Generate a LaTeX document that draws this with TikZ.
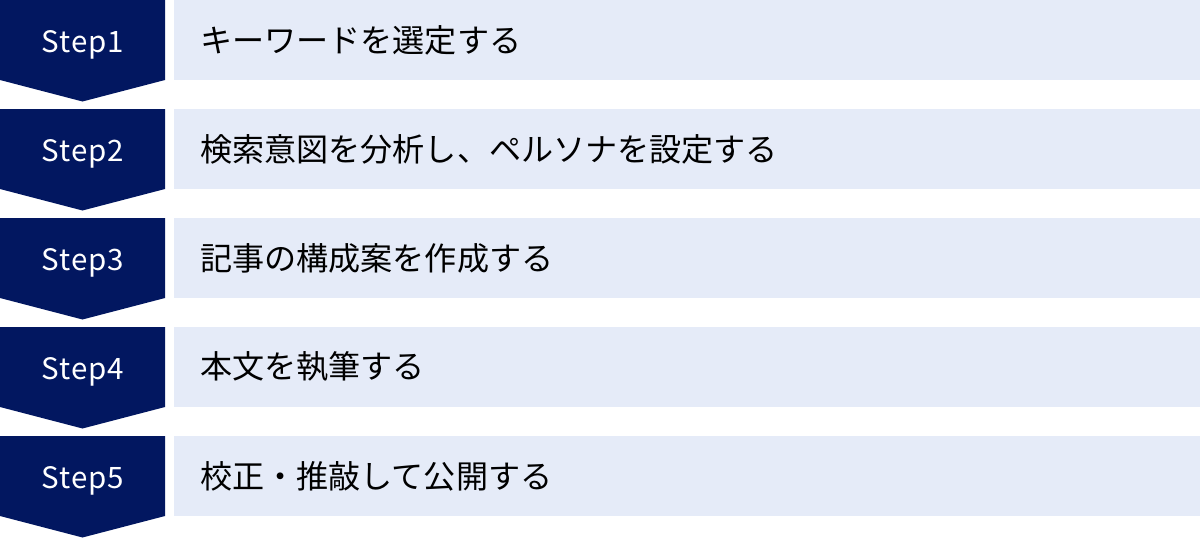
\documentclass[tikz,border=0pt]{standalone}
\usepackage{fontspec}
\setmainfont{Noto Sans CJK JP}
\newfontfamily\stepfont[LetterSpace=3]{Noto Sans CJK JP}
\definecolor{stepnavy}{RGB}{2,23,96}
\definecolor{barblue}{RGB}{229,235,248}
\tikzset{
  steplabel/.style={anchor=base,text=white,inner sep=0pt,font=\stepfont\fontsize{29.5}{34}\selectfont},
  tasklabel/.style={anchor=west,inner sep=0pt,text=black,font=\fontsize{32.1}{38}\selectfont}
}
\begin{document}
\begin{tikzpicture}[x=1pt,y=-1pt]
    \useasboundingbox (0,0) rectangle (1200,538);

    \foreach \i/\txt in {1/キーワードを選定する,2/検索意図を分析し、ペルソナを設定する,3/記事の構成案を作成する,4/本文を執筆する,5/校正・推敲して公開する}{
        \pgfmathsetmacro{\rowtop}{(\i-1)*109}
        % chevron on the left, bar on the right
        \fill[stepnavy] (0,\rowtop) -- ++(165,0) -- ++(0,80) -- ++(-82.5,21.5) -- ++(-82.5,-21.5) -- cycle;
        \fill[barblue] (174,\rowtop) rectangle ++(1026,80);
        \node[steplabel] (step\i) at (83,\rowtop+52.5) {Step\i};
        \node[tasklabel] (task\i) at (200,\rowtop+40) {\txt};
    }
\end{tikzpicture}
\end{document}
